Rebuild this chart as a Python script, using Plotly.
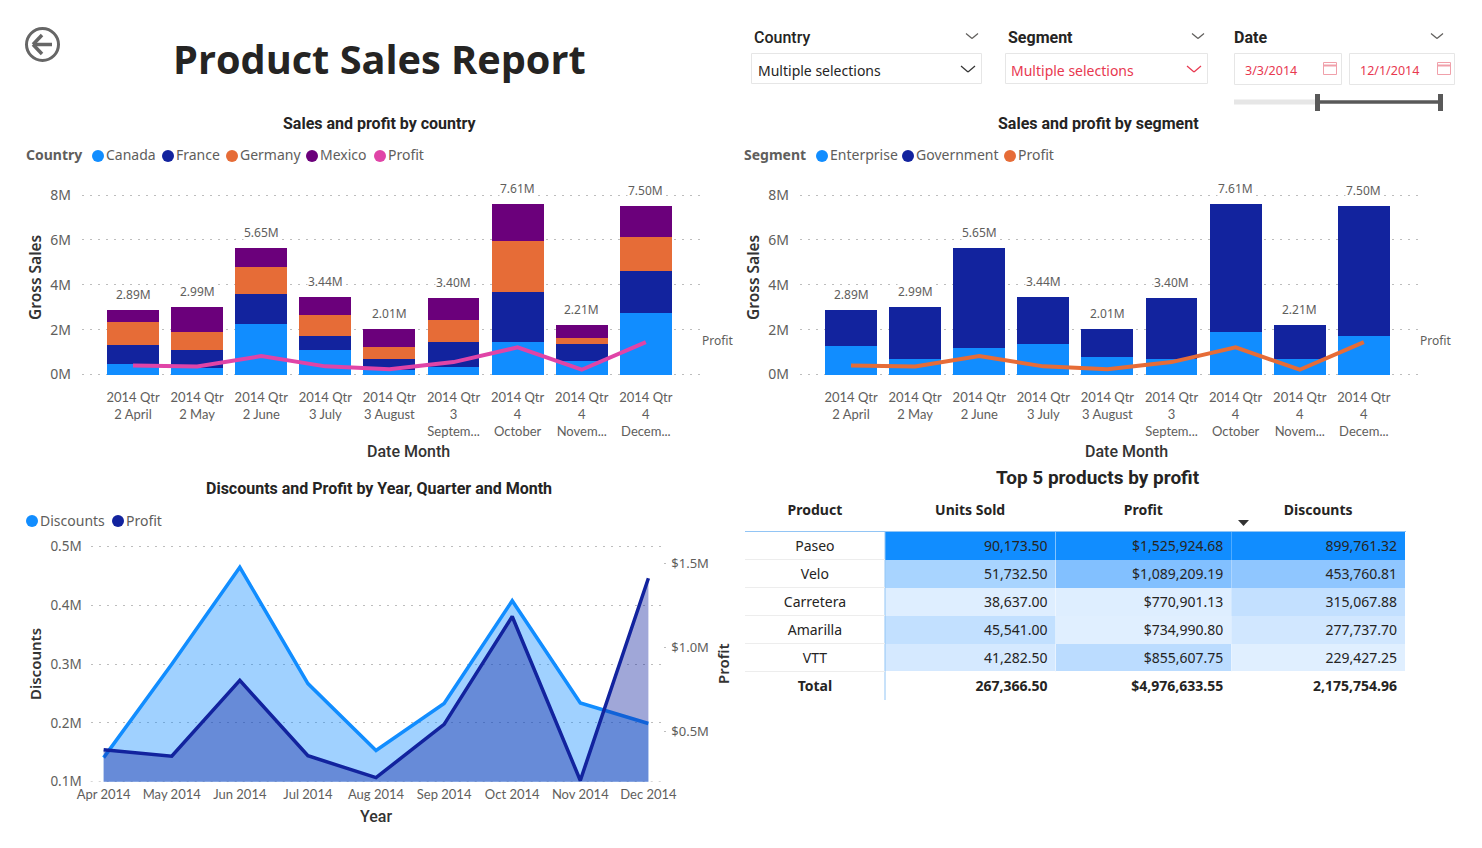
import plotly.graph_objects as go

W, H = 1482, 848
months_q = ["2014 Qtr<br>2 April", "2014 Qtr<br>2 May", "2014 Qtr<br>2 June", "2014 Qtr<br>3 July",
            "2014 Qtr<br>3 August", "2014 Qtr<br>3<br>Septem...", "2014 Qtr<br>4<br>October",
            "2014 Qtr<br>4<br>Novem...", "2014 Qtr<br>4<br>Decem..."]
totals = [2.89, 2.99, 5.65, 3.44, 2.01, 3.40, 7.61, 2.21, 7.50]
total_labels = ["2.89M", "2.99M", "5.65M", "3.44M", "2.01M", "3.40M", "7.61M", "2.21M", "7.50M"]
canada = [0.49, 0.31, 2.26, 1.11, 0.22, 0.35, 1.46, 0.58, 2.74]
france = [0.84, 0.80, 1.32, 0.62, 0.49, 1.11, 2.21, 0.79, 1.86]
germany = [1.02, 0.79, 1.20, 0.92, 0.53, 0.97, 2.30, 0.27, 1.55]
mexico = [0.54, 1.09, 0.87, 0.79, 0.77, 0.97, 1.64, 0.57, 1.35]
enterprise = [1.29, 0.71, 1.16, 1.38, 0.80, 0.67, 1.90, 0.71, 1.73]
government = [1.60, 2.28, 4.49, 2.06, 1.21, 2.73, 5.71, 1.50, 5.77]
profit = [0.391, 0.352, 0.804, 0.355, 0.225, 0.542, 1.185, 0.208, 1.413]
discounts = [0.141, 0.300, 0.465, 0.267, 0.153, 0.233, 0.408, 0.234, 0.199]
months_y = ["Apr 2014", "May 2014", "Jun 2014", "Jul 2014", "Aug 2014", "Sep 2014", "Oct 2014", "Nov 2014", "Dec 2014"]
sales_ticks = [0, 2, 4, 6, 8]
sales_ticktext = ["0M", "2M", "4M", "6M", "8M"]
disc_ticks = [0.1, 0.2, 0.3, 0.4, 0.5]
disc_ticktext = ["0.1M", "0.2M", "0.3M", "0.4M", "0.5M"]
prof_ticks = [0.5, 1.0, 1.5]
prof_ticktext = ["$0.5M", "$1.0M", "$1.5M"]

products = ["Paseo", "Velo", "Carretera", "Amarilla", "VTT"]
units_txt = ["90,173.50", "51,732.50", "38,637.00", "45,541.00", "41,282.50"]
profit_txt = ["$1,525,924.68", "$1,089,209.19", "$770,901.13", "$734,990.80", "$855,607.75"]
disc_txt = ["899,761.32", "453,760.81", "315,067.88", "277,737.70", "229,427.25"]
total_row = ["Total", "267,366.50", "$4,976,633.55", "2,175,754.96"]
units_fill = ["#118DFF", "#A8D4FF", "#DEEEFF", "#C2E0FF", "#D5E9FF"]
profit_fill = ["#118DFF", "#82C0FF", "#DEEEFF", "#E0EFFF", "#BBDCFF"]
disc_fill = ["#118DFF", "#8FC6FF", "#C3E0FF", "#D1E7FF", "#E0EFFF"]

BLUE, NAVY, ORANGE, PURPLE, PINK = "#118DFF", "#12239E", "#E66C37", "#6B007B", "#E044A7"
BODY = "Noto Sans"
HEAD = "Roboto"
TICK = "Lato"
GREY = "#605E5C"
DARK = "#252423"
GRID = "#BDBDBD"
GRID_DASH = "2px,6px"


def X(p):
    return p / W


def Y(p):
    return 1 - p / H


fig = go.Figure()
shapes, notes = [], []


def text(x, y, s, size=14, color=GREY, font=BODY, anchor="center", angle=0, bold=False, weight=None):
    f = dict(size=size, color=color, family=font)
    if weight:
        f["weight"] = weight
    notes.append(dict(xref="paper", yref="paper", x=X(x), y=Y(y), text=f"<b>{s}</b>" if bold else s,
                      showarrow=False, xanchor=anchor, yanchor="middle", textangle=angle, font=f))


def line(x0, y0, x1, y1, color, width=1):
    shapes.append(dict(type="line", xref="paper", yref="paper", x0=X(x0), y0=Y(y0), x1=X(x1), y1=Y(y1),
                       line=dict(color=color, width=width)))


def rect(x0, y0, x1, y1, color, fill="rgba(0,0,0,0)"):
    shapes.append(dict(type="rect", xref="paper", yref="paper", x0=X(x0), y0=Y(y0), x1=X(x1), y1=Y(y1),
                       line=dict(color=color, width=1), fillcolor=fill))


def dot(cx, cy, color, r=6):
    shapes.append(dict(type="circle", xref="paper", yref="paper", x0=X(cx - r), y0=Y(cy - r), x1=X(cx + r), y1=Y(cy + r),
                       line=dict(width=0), fillcolor=color))


def chevron(cx, cy, color, w=6, h=5):
    line(cx - w, cy - h / 2, cx, cy + h / 2, color, 1.2)
    line(cx, cy + h / 2, cx + w, cy - h / 2, color, 1.2)


def legend_row(y, items):
    for kind, x, label, color in items:
        if kind == "t":
            text(x - 2, y - 1, label, 14, GREY, anchor="left", bold=True)
        else:
            dot(x, y, color)
            text(x + 6, y - 1, label, 14, GREY, anchor="left")


def bar_axes(xa, ya, ya2, dom_x):
    # the y ranges run 0.1M past both ends so the 0M and 8M gridlines are kept
    dom_y = [Y(376.74), Y(192.76)]
    layout[xa] = dict(domain=[X(dom_x[0]), X(dom_x[1])], range=[-0.796, 8.845], type="category", anchor=ya.replace("axis", ""),
                      tickfont=dict(size=13, color=GREY, family=TICK), showgrid=False, zeroline=False, showline=False,
                      ticks="", ticklabelstandoff=11, tickmode="array", tickvals=months_q, ticktext=months_q, automargin=False)
    layout[ya] = dict(domain=dom_y, range=[-0.1, 8.1], anchor=xa.replace("axis", ""),
                      tickvals=sales_ticks, ticktext=sales_ticktext, tickfont=dict(size=14, color=GREY, family=BODY),
                      showgrid=True, gridcolor=GRID, griddash=GRID_DASH, gridwidth=1, zeroline=False, showline=False,
                      ticks="", ticklabelstandoff=10, automargin=False)
    layout[ya2] = dict(overlaying=ya.replace("axis", ""), domain=dom_y, range=[-0.098, 7.938], visible=False,
                       anchor=xa.replace("axis", ""), side="right", automargin=False)


layout = dict(width=W, height=H, margin=dict(l=0, r=0, t=0, b=0, pad=0), paper_bgcolor="white", plot_bgcolor="rgba(0,0,0,0)",
              showlegend=False, barmode="stack", bargap=0.19, autosize=False, template="none")
bar_axes("xaxis", "yaxis", "yaxis2", (82, 700))
bar_axes("xaxis2", "yaxis3", "yaxis4", (800, 1418))

for name, vals, color in [("Canada", canada, BLUE), ("France", france, NAVY), ("Germany", germany, ORANGE), ("Mexico", mexico, PURPLE)]:
    fig.add_trace(go.Bar(x=months_q, y=vals, name=name, marker=dict(color=color, line=dict(width=0)), xaxis="x", yaxis="y"))
fig.add_trace(go.Scatter(x=months_q, y=profit, name="Profit", mode="lines", line=dict(color=PINK, width=4), xaxis="x", yaxis="y2"))
for name, vals, color in [("Enterprise", enterprise, BLUE), ("Government", government, NAVY)]:
    fig.add_trace(go.Bar(x=months_q, y=vals, name=name, marker=dict(color=color, line=dict(width=0)), xaxis="x2", yaxis="y3"))
fig.add_trace(go.Scatter(x=months_q, y=profit, name="Profit", mode="lines", line=dict(color=ORANGE, width=4), xaxis="x2", yaxis="y4"))

for xr, yr in [("x", "y"), ("x2", "y3")]:
    for cat, tot, lab in zip(months_q, totals, total_labels):
        notes.append(dict(xref=xr, yref=yr, x=cat, y=tot, text=lab, showarrow=False, yanchor="bottom", yshift=6,
                          bgcolor="white", borderpad=0, font=dict(size=12, color=GREY, family=BODY)))

# Area chart
dom_area = [Y(781.7), Y(543.76)]
layout["xaxis3"] = dict(domain=[X(90.7), X(662.7)], range=[-0.19, 8.21], type="category", anchor="y5",
                        tickfont=dict(size=13, color=GREY, family=TICK), showgrid=False, zeroline=False, showline=False,
                        ticks="", ticklabelstandoff=3, automargin=False)
layout["yaxis5"] = dict(domain=dom_area, range=[0.1, 0.505], anchor="x3", tickvals=disc_ticks, ticktext=disc_ticktext,
                        tickfont=dict(size=13.5, color=GREY, family=BODY), showgrid=True, gridcolor=GRID,
                        griddash=GRID_DASH, gridwidth=1, zeroline=False, showline=False, ticks="", ticklabelstandoff=8, automargin=False)
layout["yaxis6"] = dict(overlaying="y5", domain=dom_area, range=[0.2006, 1.6185], anchor="x3", side="right",
                        tickvals=prof_ticks, ticktext=prof_ticktext, tickfont=dict(size=13, color=GREY, family=BODY),
                        showgrid=False, zeroline=False, showline=False, ticks="outside", ticklen=2, tickcolor=GRID, tickwidth=1,
                        ticklabelstandoff=3, automargin=False)
fig.add_trace(go.Scatter(x=months_y, y=discounts, name="Discounts", mode="lines", fill="tozeroy", fillcolor="rgba(17,141,255,0.4)",
                         line=dict(color=BLUE, width=3.5), xaxis="x3", yaxis="y5"))
fig.add_trace(go.Scatter(x=months_y, y=profit, name="Profit", mode="lines", fill="tozeroy", fillcolor="rgba(18,35,158,0.4)",
                         line=dict(color=NAVY, width=3.5), xaxis="x3", yaxis="y6"))
# gridline at the bottom of the area chart, which the axis itself leaves out
shapes.append(dict(type="line", xref="x3 domain", yref="y5", x0=0, x1=1, y0=disc_ticks[0], y1=disc_ticks[0], layer="below",
                   line=dict(color=GRID, width=1, dash=GRID_DASH)))

# Table: body with its header, and the total row as a second table in bold
col_w = [140, 171, 176, 174]
fig.add_trace(go.Table(
    domain=dict(x=[X(745), X(1406)], y=[Y(672), Y(496)]),
    columnwidth=col_w,
    header=dict(values=["Product", "Units Sold", "Profit", "Discounts"],
                height=36, align="center", fill_color="white", line=dict(width=0, color="white"),
                font=dict(size=14, color=DARK, family=BODY, weight=700)),
    cells=dict(values=[products, units_txt, profit_txt, disc_txt],
               height=28, align=["center", "right", "right", "right"],
               fill_color=[["white"] * 5, units_fill, profit_fill, disc_fill],
               line=dict(width=0, color="white"),
               font=dict(size=14, color=DARK, family=BODY)),
))
fig.add_trace(go.Table(
    domain=dict(x=[X(745), X(1406)], y=[Y(700), Y(671)]),
    columnwidth=col_w,
    header=dict(values=["", "", "", ""], height=1, fill_color="white", line=dict(width=0, color="white"),
                font=dict(size=1, color="white")),
    cells=dict(values=[[v] for v in total_row],
               height=28, align=["center", "right", "right", "right"],
               fill_color="white", line=dict(width=0, color="white"),
               font=dict(size=14, color=DARK, family=BODY, weight=700)),
))
line(745, 531.5, 1406, 531.5, "#92C5F5", 1)
line(885, 531.5, 885, 700, "#92C5F5", 1)
for yy in [559.5, 587.5, 615.5, 643.5, 671.5]:
    line(745, yy, 885, yy, "#EDEDED", 1)
shapes.append(dict(type="path", xref="paper", yref="paper", line=dict(width=0), fillcolor="#333333",
                   path=f"M {X(1238)} {Y(520)} L {X(1249)} {Y(520)} L {X(1243.5)} {Y(526)} Z"))

# Titles and axis titles
text(380, 59, "Product Sales Report", 39.7, DARK, "Open Sans", bold=True)
text(380, 123.5, "Sales and profit by country", 16, DARK, HEAD, bold=True)
text(1098, 123.5, "Sales and profit by segment", 16, DARK, HEAD, bold=True)
text(379, 488, "Discounts and Profit by Year, Quarter and Month", 16, DARK, HEAD, bold=True)
text(1098, 478, "Top 5 products by profit", 19, DARK, HEAD, bold=True)
text(35, 278, "Gross Sales", 15.5, "#333333", BODY, angle=-90, weight=600)
text(753, 278, "Gross Sales", 15.5, "#333333", BODY, angle=-90, weight=600)
text(35, 664, "Discounts", 15, "#333333", BODY, angle=-90, weight=600)
text(723, 664, "Profit", 15, "#333333", BODY, angle=-90, weight=600)
text(408, 451, "Date Month", 16, "#333333", HEAD, weight=500)
text(1126, 451, "Date Month", 16, "#333333", HEAD, weight=500)
text(376, 816, "Year", 16, "#333333", HEAD, weight=500)
text(717, 341, "Profit", 12, GREY)
text(1435, 341, "Profit", 12, GREY)

legend_row(156, [("t", 26, "Country", None), ("d", 98, "Canada", BLUE), ("d", 168, "France", NAVY),
                 ("d", 232, "Germany", ORANGE), ("d", 312, "Mexico", PURPLE), ("d", 380, "Profit", PINK)])
legend_row(156, [("t", 744, "Segment", None), ("d", 822, "Enterprise", BLUE), ("d", 908, "Government", NAVY),
                 ("d", 1010, "Profit", ORANGE)])
legend_row(521, [("d", 32, "Discounts", BLUE), ("d", 118, "Profit", NAVY)])

# Back button
shapes.append(dict(type="circle", xref="paper", yref="paper", x0=X(26.5), y0=Y(28.5), x1=X(58.5), y1=Y(60.5),
                   line=dict(color="#666666", width=3), fillcolor="white"))
line(33, 44.5, 52, 44.5, "#666666", 3.5)
line(33, 44.5, 42, 35, "#666666", 3.5)
line(33, 44.5, 42, 54, "#666666", 3.5)

# Slicers
RED = "#E8384F"
text(752, 37, "Country", 16, DARK, HEAD, anchor="left", weight=500)
text(1006, 37, "Segment", 16, DARK, HEAD, anchor="left", bold=True)
text(1232, 37, "Date", 16, DARK, HEAD, anchor="left", bold=True)
chevron(972, 36, "#605E5C")
chevron(1198, 36, "#605E5C")
chevron(1437, 36, "#605E5C")
rect(751.5, 53.5, 981.5, 83.5, "#E6E6E6")
rect(1005.5, 53.5, 1207.5, 83.5, "#E6E6E6")
rect(1234.5, 53.5, 1341.5, 84.5, "#E6E6E6")
rect(1349.5, 53.5, 1454.5, 84.5, "#E6E6E6")
text(756, 70.5, "Multiple selections", 14, DARK, anchor="left")
text(1009, 70.5, "Multiple selections", 14, RED, anchor="left")
chevron(968, 69, "#333333", 7, 6)
chevron(1194, 69, RED, 7, 6)
text(1243, 70.5, "3/3/2014", 12.5, RED, anchor="left")
text(1358, 70.5, "12/1/2014", 12.5, RED, anchor="left")
for cx in [1330, 1444]:
    rect(cx - 6.5, 62.5, cx + 6.5, 74.5, "#F0A0AA")
    line(cx - 6.5, 65.5, cx + 6.5, 65.5, "#F0A0AA", 2)
line(1234, 102, 1318, 102, "#E6E6E6", 5)
line(1318, 102, 1440, 102, "#595959", 3.5)
line(1317.5, 94, 1317.5, 111, "#595959", 5)
line(1440.5, 94, 1440.5, 111, "#595959", 5)

layout["shapes"] = shapes
layout["annotations"] = notes
fig.update_layout(**layout)
fig.write_html("out.html", config={"displayModeBar": False}, post_script="document.body.style.margin='0';")
